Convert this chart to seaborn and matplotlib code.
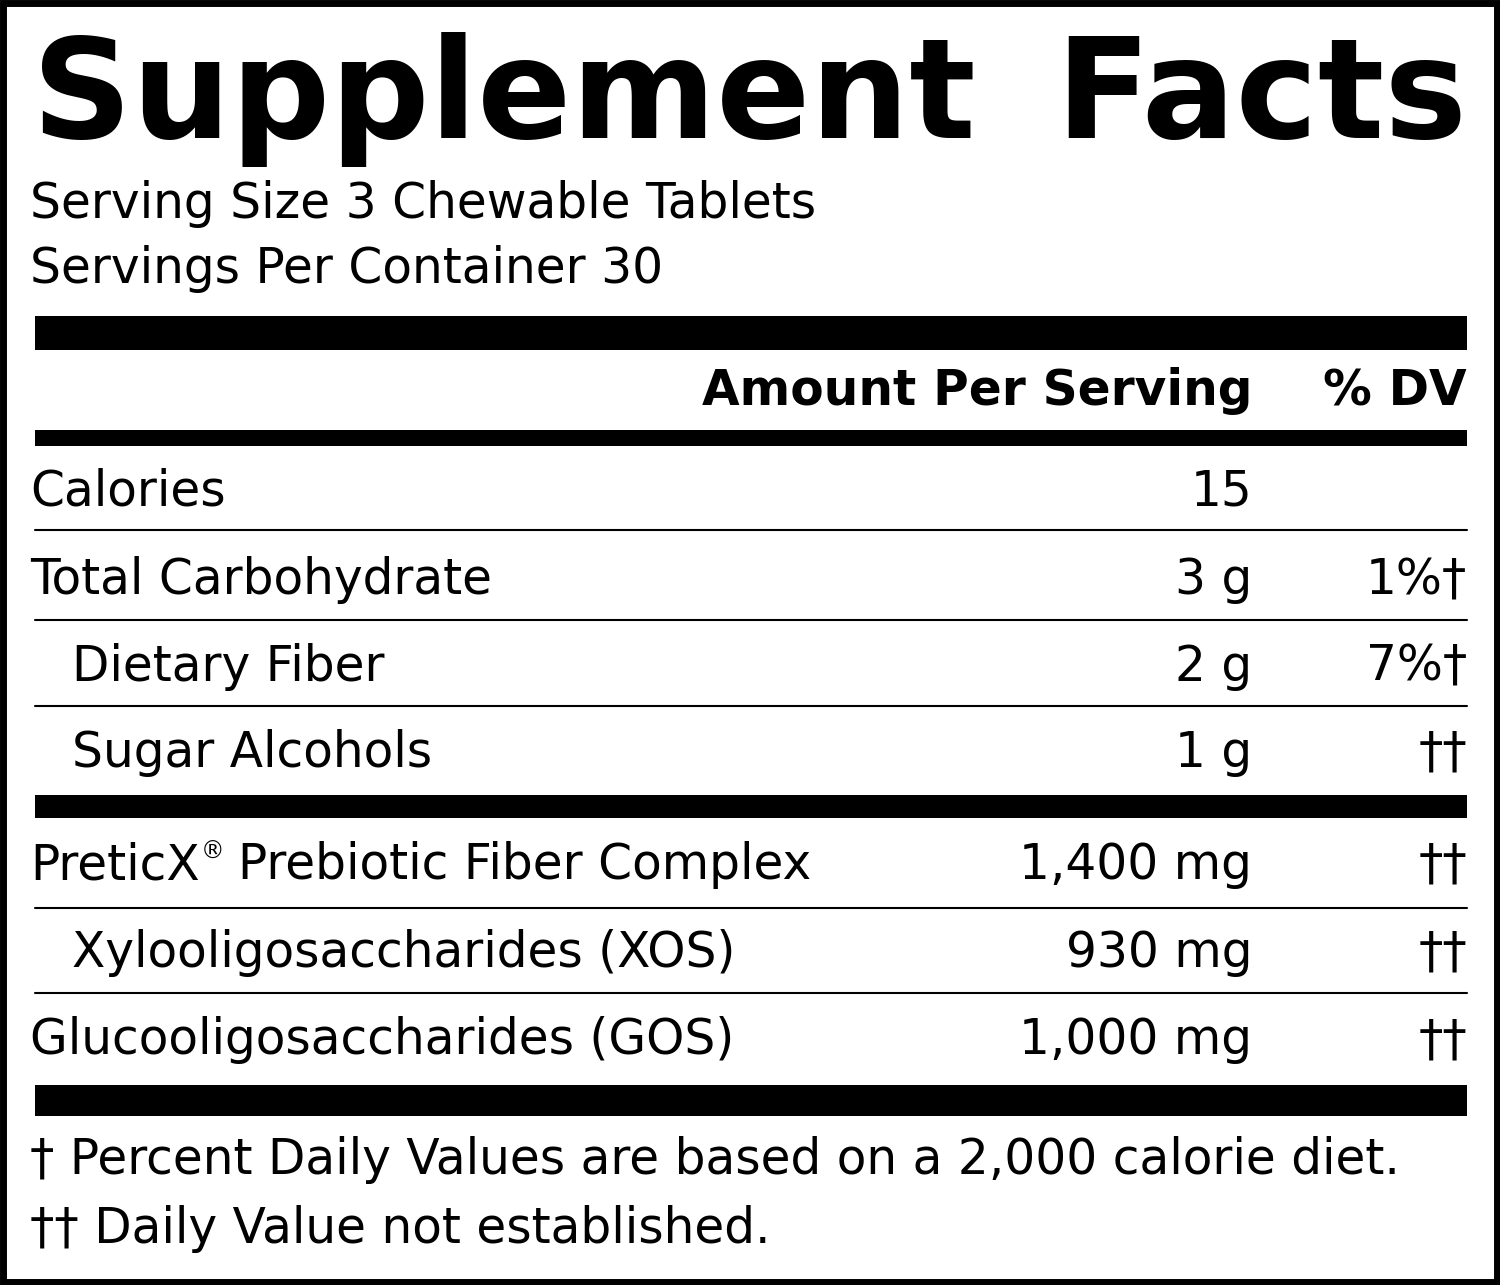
import matplotlib
matplotlib.use("Agg")
import matplotlib.pyplot as plt
import matplotlib.transforms as mtrans
import seaborn as sns

sns.set_theme(style="white")
plt.rcParams['font.family'] = ['DejaVu Sans']
plt.rcParams['text.color'] = 'black'

title_words = ["Supplement", "Facts"]
serving = ["Serving Size 3 Chewable Tablets", "Servings Per Container 30"]
names = ["Calories", "Total Carbohydrate", "Dietary Fiber", "Sugar Alcohols",
         "PreticX", "Xylooligosaccharides (XOS)", "Glucooligosaccharides (GOS)"]
indent = [False, False, True, True, False, True, False]
amounts = ["15", "3 g", "2 g", "1 g", "1,400 mg", "930 mg", "1,000 mg"]
dvs = ["", "1%†", "7%†", "††", "††", "††", "††"]
footnotes = ["† Percent Daily Values are based on a 2,000 calorie diet.",
             "†† Daily Value not established."]

W, H = 1500, 1285
fig = plt.figure(figsize=(15, 12.85), dpi=100)
ax = fig.add_axes([0, 0, 1, 1])
ax.set_xlim(0, W); ax.set_ylim(H, 0); ax.axis('off')

ax.add_patch(plt.Rectangle((3, 3), W - 6, H - 6, fill=False, lw=5, ec='black'))

fs = 35
ax.text(32, 138, title_words[0], fontsize=100, fontweight='bold', va='baseline', ha='left', color='black')
ax.text(1467, 138, title_words[1], fontsize=100, fontweight='bold', va='baseline', ha='right', color='black')
ax.text(30, 218, serving[0], fontsize=fs, va='baseline')
ax.text(30, 283, serving[1], fontsize=fs, va='baseline')

def bar(y0, y1):
    ax.add_patch(plt.Rectangle((35, y0), 1432, y1 - y0, color='black', lw=0))

bar(316, 350)
ax.text(1252, 405, "Amount Per Serving", fontsize=fs, fontweight='bold', ha='right', va='baseline')
ax.text(1467, 405, "% DV", fontsize=fs, fontweight='bold', ha='right', va='baseline')
bar(430, 446)

baselines = [506, 594, 681, 767, 879, 967, 1054]
sep = {0: 'thin', 1: 'thin', 2: 'thin', 3: 'thick', 4: 'thin', 5: 'thin'}
seppos = {0: 530, 1: 620, 2: 706, 3: (795, 818), 4: 908, 5: 993}
fig.canvas.draw()
r = fig.canvas.get_renderer()
bt = mtrans.blended_transform_factory(mtrans.IdentityTransform(), ax.transData)
for i, (n, a, d, b) in enumerate(zip(names, amounts, dvs, baselines)):
    x = 72 if indent[i] else 30
    t = ax.text(x, b, n, fontsize=fs, va='baseline')
    if n == "PreticX":
        bb = t.get_window_extent(r)
        rt = ax.text(bb.x1 + 1, b - 20, "®", fontsize=17, va='baseline', transform=bt)
        rb = rt.get_window_extent(r)
        ax.text(rb.x1 + 14, b, "Prebiotic Fiber Complex", fontsize=fs, va='baseline', transform=bt)
    ax.text(1252, b, a, fontsize=fs, ha='right', va='baseline')
    ax.text(1467, b, d, fontsize=fs, ha='right', va='baseline')
    if i in sep:
        if sep[i] == 'thin':
            ax.plot([35, 1467], [seppos[i]] * 2, color='black', lw=1.5)
        else:
            bar(*seppos[i])

bar(1085, 1116)
ax.text(30, 1174, footnotes[0], fontsize=fs, va='baseline')
ax.text(30, 1243, footnotes[1], fontsize=fs, va='baseline')

fig.savefig("out.png", dpi=100, facecolor='white')
